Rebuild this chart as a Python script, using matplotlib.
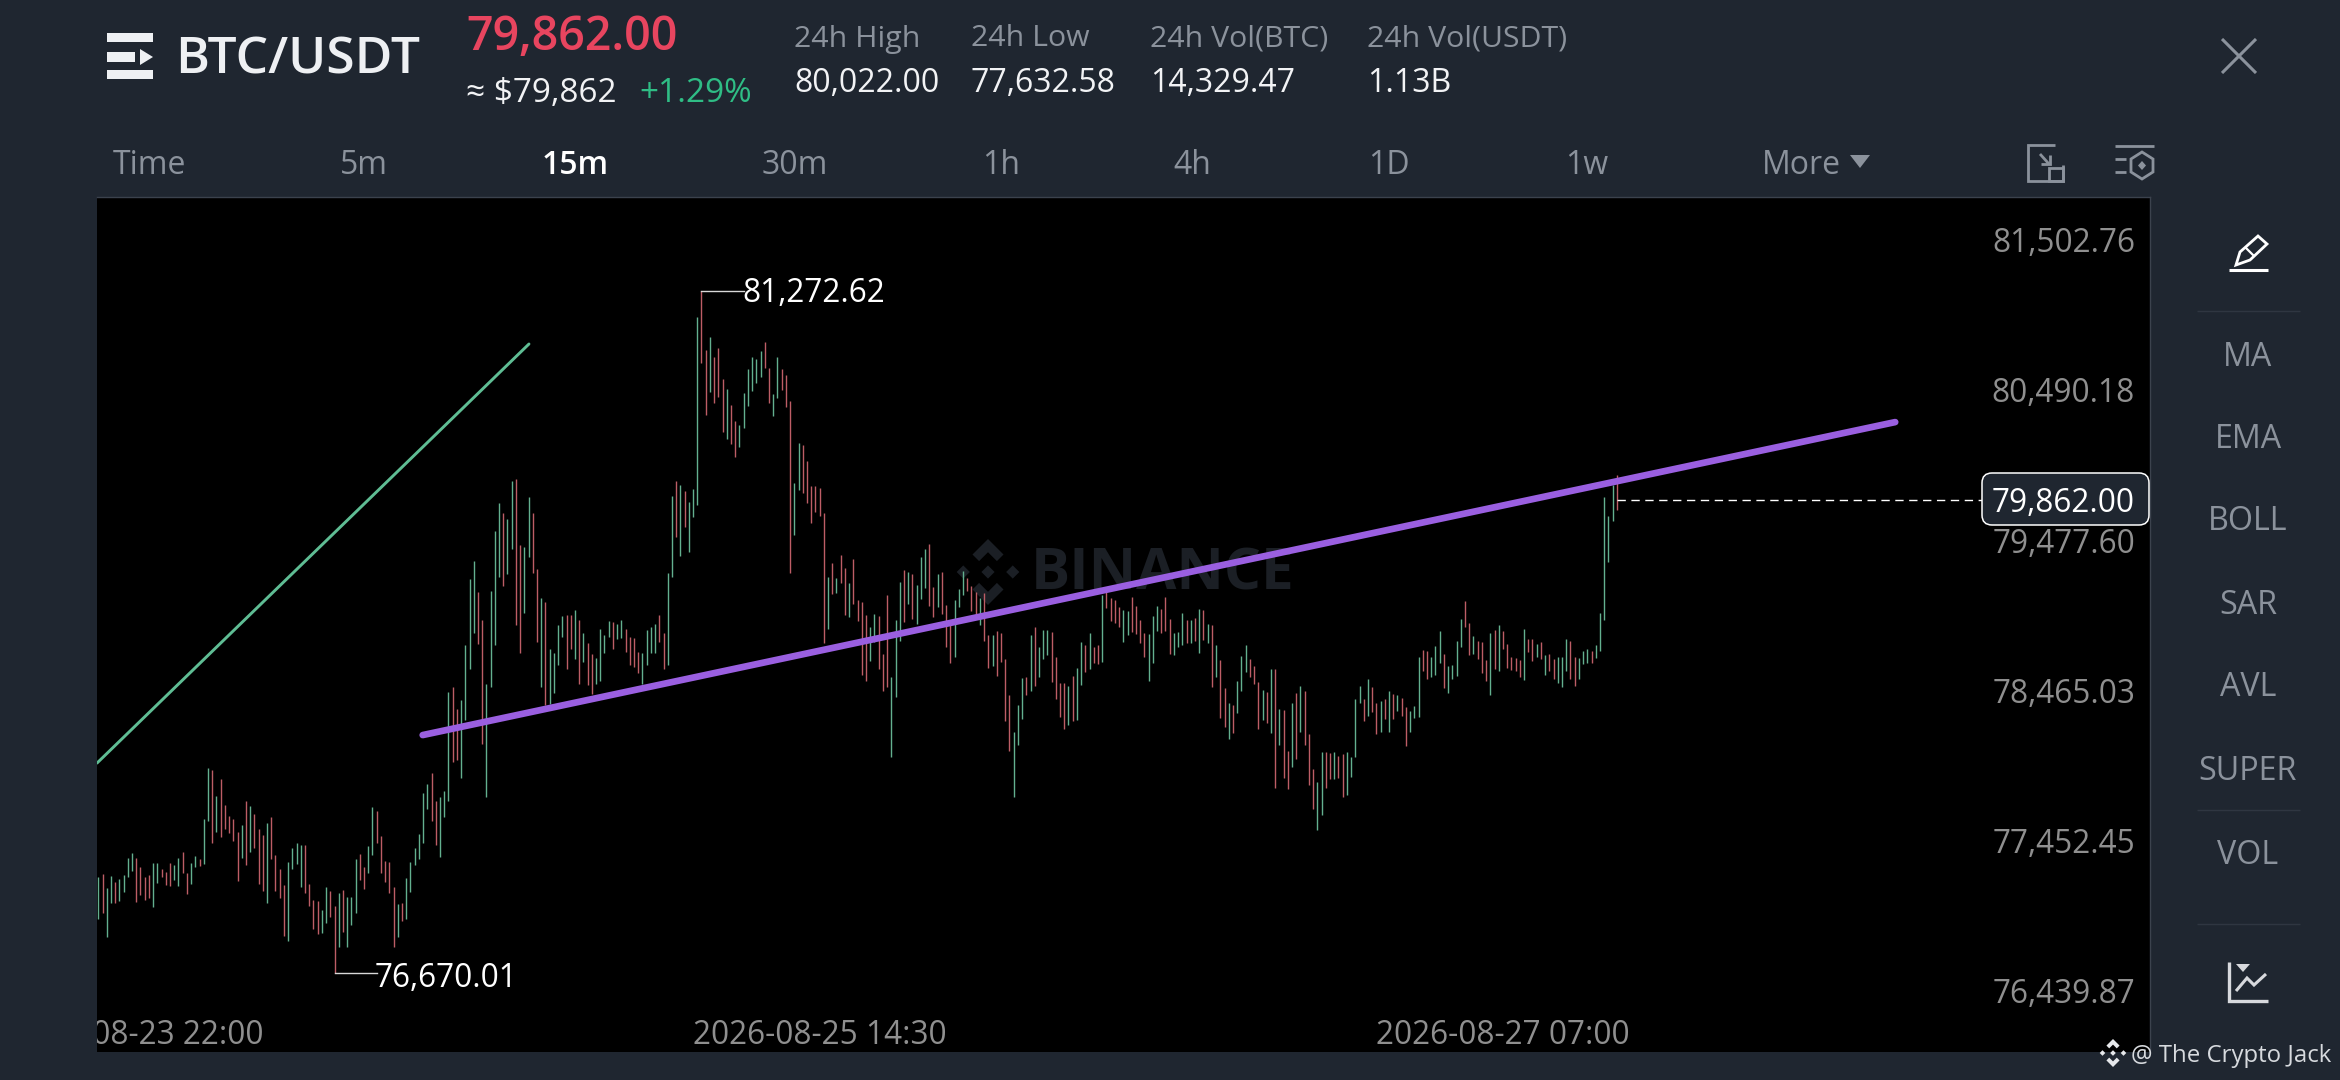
import matplotlib
matplotlib.use('Agg')
import matplotlib.pyplot as plt
from matplotlib.patches import Polygon, FancyBboxPatch, Rectangle

plt.rcParams['font.family'] = ['Open Sans', 'DejaVu Sans']

# 15m bars, left to right (only high/low are visible at this zoom)
highs_a = [77316,77338,77242,77325,77287,77302,77329,77444,77478,77444,
           77383,77316,77329,77410,77415,77370,77352,77410,77397,77446,
           77487,77347,77410,77460,77438,77712,78052,78040,77865,77982,
           77806,77730,77708,77622,77672,77829,77798,77743,77644,77599,
           77680,77721,77465,77370,77264,77422,77512,77545,77532,77534,
           77271,77163,77154,77096,77249,77222,77123,77208,77230,77186,
           77181,77438,77474,77388,77527,77793,77762,77595,77424,77420,
           77249,77136,77145,77309,77420,77514,77608,77888,77946,78018,
           77829,77856,77896]
lows_a = [77032,77073,76915,77145,77145,77158,77217,77320,77361,77152,
          77197,77163,77174,77118,77275,77316,77262,77257,77298,77257,
          77343,77201,77271,77388,77393,77406,77699,77550,77622,77586,
          77640,77613,77563,77294,77447,77402,77487,77514,77271,77222,
          77145,77442,77226,77176,76920,76888,77374,77406,77249,77208,
          77123,76970,76934,76938,77010,77050,76670.01,76848,76947,76848,
          76994,77073,77298,77235,77348,77467,77550,77348,77284,77208,
          76843,76916,77023,77032,77217,77402,77442,77545,77780,77699,
          77536,77456,77726]
sides_a = ("GRGGRGGGGR" "RRRGGRRRGG" "RRGGRGGRGR" "RRRRGRGRRR" "GRRRRGGGGR"
           "RRRGGRRGRG" "GGRRGGRRRR" "RGRGGGGGGR" "RGG")

highs_b = [78568,78602,78453,78516,78883,79326,79452,79240,79052,78624,
           79245,79655,79844,79776,79736,79992,80001,79556,79542,79880,
           79776,79394,79198,79175,78854,78827,79018,79079,79085,79085,
           79119,79052,78966,78894,78822,78793,78995,78950,79047,79040,
           79025,79052,78989,78939,78928,78838,78827,78984,79002,79025,
           79085,78966,79371,79889,79988,79963,79925,79850,79934,81094,
           81272.62,80874,80960,80825,80885,80676,80613,80503,80397,80368,
           80582,80744,80825,80816,80865,80928,80750,80577,80825,80748,
           80703,80532,79979,80249,80233,80127,79956,79956,79942,79776,
           79344,79434,79333]
lows_b = [77829,78095,78106,77986,78376,78725,78962,78889,78214,77858,
          78602,78883,79340,79281,79366,79529,79018,78827,79101,79479,
          79371,78905,78602,78478,78489,78561,78748,78939,78725,78860,
          78786,78620,78770,78613,78556,78624,78642,78827,78935,78860,
          78921,78928,78838,78748,78736,78696,78624,78748,78831,78827,
          78905,78719,78748,79344,79614,79484,79677,79513,79749,79828,
          80784,80437,80593,80514,80555,80320,80271,80240,80154,80222,
          80345,80496,80600,80649,80690,80750,80514,80428,80548,80604,
          80487,79371,79625,79929,79911,79844,79709,79783,79754,78894,
          78995,79227,79236]
sides_b = ("GRRGGGGRRG" "GGGRGGRRGG" "RRGRGGGGRR" "GRGRRGGGGR" "GGRRRRGGGG"
           "RRGGRGRGGG" "RRGRRRGRRG" "GGGGGRRGGR" "RRGGRRRRRR" "GRG")

highs_c = [79488,79401,79304,79466,79187,79174,79088,79002,79092,79079,
           78822,79223,78665,79052,79308,79389,79378,79362,79286,79480,
           79529,79565,79273,79362,79376,79156,79038,79187,79264,79385,
           79333,79282,79241,79198,79237,78951,78948,78980,78966,78791,
           78546,78300,78480,78658,78670,78951,79007,78872,78984,78984,
           78971,78800,78629,78629,78606,78674,78726,78906,78883,78962,
           78872,78881,79221,79243,79198,79187,79137,79120,79115,79205,
           79147,79052,78966,78957,79079,79147,79128,79210,79061,78966,
           78971,79097,79052,79052,79063,79124]
lows_c = [79304,79086,79070,79160,79047,78681,78642,78773,78904,78724,
          78575,78602,78125,78534,78912,79038,79160,79057,79025,79192,
          79268,79147,79075,79142,79092,78868,78760,78800,79142,79223,
          79250,79110,79086,79020,78912,78730,78741,78674,78768,78368,
          78170,77855,78208,78386,78546,78575,78606,78670,78791,78813,
          78636,78521,78400,78314,78341,78368,78377,78611,78701,78719,
          78760,78755,78768,79131,79047,79034,79002,78906,78953,78973,
          78958,78899,78800,78642,78760,78980,78962,78980,78822,78818,
          78872,78881,78899,78894,78908,78831]
sides_c = ("RRGRRRRGGR" "RRGGGRGRGG" "GRRGRRRGGG" "RRRGRRGRRR" "RGGGRGRGGG"
           "RRRRGRGGRG" "RRGRRRRGGR" "RRRGGGRRRG" "GGRGRG")

highs_d = [79120,79025,79016,78881,78782,78593,78494,78480,78643,78809,
           78881,78787,78742,78634,78580,78566,78719,78719,78449,78445,
           78170,78494,78557,78606,78575,78283,78044,77959,78161,78165,
           78152,78161,78134,78148,78165,78130,78517,78607,78517,78652,
           78602,78490,78503,78517,78575,78553,78548,78526,78467,78436,
           78472,78800,78850,78845,78805,78877,78980,78823,78742,78751,
           78908,79061,79178,79030,78944,78908,78904,78782,78967,78985,
           79021,78980,78890,78800,78796,78782,78994,78926,78922,78890,
           78904,78818,78823,78791,78805,78805,78926,78912,78800,78796,
           78845,78859,78845,78881,79097,79880,79754,79964,80031]
lows_d = [78917,78899,78602,78670,78391,78328,78247,78292,78427,78575,
          78703,78665,78620,78319,78377,78359,78292,77918,78206,77986,
          77914,78058,78116,78296,78206,77936,77779,77635,77734,77922,
          77981,77981,77986,77860,77873,77995,78130,78494,78373,78404,
          78431,78283,78296,78382,78296,78386,78436,78404,78202,78296,
          78391,78395,78710,78656,78670,78681,78764,78593,78557,78656,
          78674,78868,79003,78818,78823,78791,78692,78638,78548,78719,
          78710,78854,78728,78715,78710,78670,78647,78836,78778,78800,
          78791,78683,78706,78652,78629,78602,78710,78652,78607,78652,
          78755,78760,78760,78796,78845,79052,79446,79723,79795]
sides_d = ("RGRGRRGRGG" "GRRRGRGRGR" "RGRGRRRGGR" "RGRRGGGGRG" "RRGRGRGRRG"
           "GGRRGGGRGG" "GGRRGRRRGR" "GRRRRRGRRG" "RGRRGGGRRG" "GGRGGGGGR")

y_ticks = [81502.76, 80490.18, 79477.60, 78465.03, 77452.45, 76439.87]
x_tick_pos = [9, 171, 333]
x_tick_labels = ['2026-08-23 22:00', '2026-08-25 14:30', '2026-08-27 07:00']
last_price = 79862.00
high_price = 81272.62
low_price = 76670.01
green_line = ([-0.31, 102.1], [78087, 80915])
purple_line = ([76.9, 426.0], [78276, 80388])

tab_labels = ['Time', '5m', '15m', '30m', '1h', '4h', '1D', '1w', 'More']
tab_x = [149, 364, 575, 795, 1001, 1192, 1389, 1587, 1801]
stat_labels = ['24h High', '24h Low', '24h Vol(BTC)', '24h Vol(USDT)']
stat_values = ['80,022.00', '77,632.58', '14,329.47', '1.13B']
stat_x = [794, 971, 1150, 1367]
side_labels = ['MA', 'EMA', 'BOLL', 'SAR', 'AVL', 'SUPER', 'VOL']
side_y = [357, 440, 522, 606, 688, 771, 855]

BG = '#1f2630'
GREY = '#8b929c'
UP = '#63b08f'
DOWN = '#bd5d66'

highs = highs_a + highs_b + highs_c + highs_d
lows = lows_a + lows_b + lows_c + lows_d
sides = sides_a + sides_b + sides_c + sides_d

fig = plt.figure(figsize=(23.4, 10.8), dpi=100, facecolor=BG)

# pixel canvas for header, side panel, icons
ui = fig.add_axes([0, 0, 1, 1], zorder=3)
ui.set_xlim(0, 2340)
ui.set_ylim(1080, 0)
ui.axis('off')

ax = fig.add_axes([97 / 2340, 1 - 1052 / 1080, 2053 / 2340, 855 / 1080], zorder=2)
ax.set_facecolor('black')


def binance_logo(target, cx, cy, r, color, zorder=1):
    top = [(0, -1), (.47, -.53), (.27, -.33), (0, -.6), (-.27, -.33), (-.47, -.53)]
    bottom = [(x, -y) for x, y in top]
    dia = [(0, -.2), (.2, 0), (0, .2), (-.2, 0)]
    shapes = [top, bottom, dia,
              [(x - .75, y) for x, y in dia], [(x + .75, y) for x, y in dia]]
    for s in shapes:
        pts = [(cx + x * r, cy + y * r) for x, y in s]
        target.add_patch(Polygon(pts, closed=True, fc=color, ec='none',
                                 transform=ui.transData, zorder=zorder))


# watermark under the bars
binance_logo(ax, 988, 572, 33, '#1b1f25', zorder=1)
ax.text(1163, 575, 'BINANCE', transform=ui.transData, color='#1b1f25', fontsize=42,
        fontweight='bold', ha='center', va='center', zorder=1)

bar_colors = [UP if s == 'G' else DOWN for s in sides]
ax.vlines(range(len(highs)), lows, highs, colors=bar_colors, linewidth=1.0, zorder=2)

ax.plot(*green_line, color='#5fbd94', lw=2.1, zorder=3, solid_capstyle='round')
ax.plot(*purple_line, color='#9a5fe0', lw=4.8, zorder=4, solid_capstyle='round')

ax.set_xlim(-0.31, 486.4)
ax.set_ylim(76137.4, 81906.9)
ax.set_xticks([])
ax.set_yticks([])
for name, sp in ax.spines.items():
    sp.set_visible(name in ('top', 'right'))
    sp.set_color('#3b424d')
    sp.set_linewidth(1)

# price labels sit just above their level
for p in y_ticks:
    ax.annotate(f'{p:,.2f}', (1, p), xycoords=('axes fraction', 'data'),
                xytext=(-15, 13), textcoords='offset pixels', ha='right', va='center',
                color='#8f8f8f', fontsize=22.8, zorder=5)
for i, lab in zip(x_tick_pos, x_tick_labels):
    t = ax.annotate(lab, (i, 0), xycoords=('data', 'axes fraction'),
                    xytext=(0, 17), textcoords='offset pixels', ha='center', va='center',
                    color='#8f8f8f', fontsize=22.8, zorder=5, annotation_clip=False)
    t.set_clip_on(True)
    t.set_clip_path(ax.patch)

# last price
ax.plot([len(highs) - 1, 446.6], [last_price, last_price], color='white', lw=1,
        dashes=(6, 4), zorder=5)
box = FancyBboxPatch((1986, 477), 159, 44, boxstyle='round,pad=4,rounding_size=10',
                     fc=BG, ec='white', lw=1.1, zorder=6)
ui.add_patch(box)
ui.text(2135, 503, f'{last_price:,.2f}', color='white', fontsize=22.8, ha='right', va='center', zorder=7)

# high / low markers
hi_i = highs.index(high_price)
lo_i = lows.index(low_price)
ax.plot([hi_i, hi_i + 10], [high_price, high_price], color='#d8d8d8', lw=1, zorder=5)
ax.annotate(f'{high_price:,.2f}', (hi_i + 10, high_price), xytext=(-1, -3), textcoords='offset pixels',
            color='white', fontsize=22.8, va='center', zorder=5)
ax.plot([lo_i, lo_i + 10], [low_price, low_price], color='#d8d8d8', lw=1, zorder=5)
ax.annotate(f'{low_price:,.2f}', (lo_i + 10, low_price), xytext=(-2, -5), textcoords='offset pixels',
            color='white', fontsize=22.8, va='center', zorder=5)


def rect(x0, y0, x1, y1, c):
    ui.add_patch(Rectangle((x0, y0), x1 - x0, y1 - y0, fc=c, ec='none'))


def line(xs, ys, c, w=2.0):
    ui.plot(xs, ys, color=c, lw=w, solid_capstyle='butt', solid_joinstyle='miter')


# header
rect(107, 33, 153, 42, '#eef0f3')
rect(107, 52, 135, 62, '#eef0f3')
ui.add_patch(Polygon([(140, 49), (153, 57), (140, 65)], fc='#eef0f3', ec='none'))
rect(107, 70, 153, 79, '#eef0f3')
ui.text(175, 60, 'BTC/USDT', color='#eef0f3', fontsize=37, fontweight='semibold', va='center')
ui.text(466, 37, '79,862.00', color='#e8455f', fontsize=33.6, fontweight='semibold', va='center')
ui.text(466, 94, '≈ $79,862', color='#f2f3f5', fontsize=24, va='center')
ui.text(639, 94, '+1.29%', color='#2fbd85', fontsize=24, va='center')
for x, lab, val in zip(stat_x, stat_labels, stat_values):
    ui.text(x, 39, lab, color=GREY, fontsize=21.8, va='center')
    ui.text(x, 83, val, color='#f2f3f5', fontsize=23, va='center')
line([2222, 2256], [39, 73], GREY, 2.2)
line([2222, 2256], [73, 39], GREY, 2.2)

# interval tabs
for x, lab in zip(tab_x, tab_labels):
    sel = lab == '15m'
    ui.text(x, 166, lab, color='white' if sel else GREY, fontsize=23,
            fontweight='semibold' if sel else 'normal', ha='center', va='center')
ui.add_patch(Polygon([(1850, 155), (1870, 155), (1860, 168)], fc=GREY, ec='none'))

# fullscreen + settings icons
line([2055, 2028, 2028, 2063, 2063], [145, 145, 181, 181, 165], GREY)
line([2040, 2049], [154, 164], GREY)
line([2041, 2050, 2050], [164, 164, 155], GREY)
ui.add_patch(Rectangle((2049, 168), 14, 13, fc='none', ec=GREY, lw=2))
line([2115, 2154], [146, 146], GREY)
line([2115, 2126], [159, 159], GREY)
line([2115, 2126], [172, 172], GREY)
ui.add_patch(Polygon([(2142, 152), (2153, 159), (2153, 172), (2142, 179), (2131, 172), (2131, 159)],
                     fc='none', ec=GREY, lw=2))
ui.add_patch(Polygon([(2142, 161), (2146, 165.5), (2142, 170), (2138, 165.5)], fc=GREY, ec='none'))

# right panel
ui.add_patch(Polygon([(2236, 265), (2240, 252), (2258, 236), (2267, 244), (2250, 260)],
                     fc='none', ec='white', lw=2))
line([2245, 2254], [247, 256], 'white', 1.6)
line([2229, 2268], [270, 270], 'white', 2.2)
for y in (311, 810, 924):
    line([2197, 2300], [y, y], '#2f3641', 1)
for y, lab in zip(side_y, side_labels):
    ui.text(2248, y, lab, color=GREY, fontsize=23.2, ha='center', va='center')
line([2229, 2229, 2268], [962, 1001, 1001], '#d7d9dd', 2.4)
line([2236, 2247, 2254, 2266], [991, 978, 985, 974], '#d7d9dd', 2.2)
ui.add_patch(Polygon([(2236, 964), (2250, 964), (2243, 972)], fc='#d7d9dd', ec='none'))

# source tag
binance_logo(ui, 2113, 1053, 14, '#e6e8eb', zorder=8)
ui.text(2131, 1056, '@ The Crypto Jack', color='#d7dade', fontsize=17.3, va='center', zorder=8)

fig.savefig('out.png', dpi=100, facecolor=BG)
